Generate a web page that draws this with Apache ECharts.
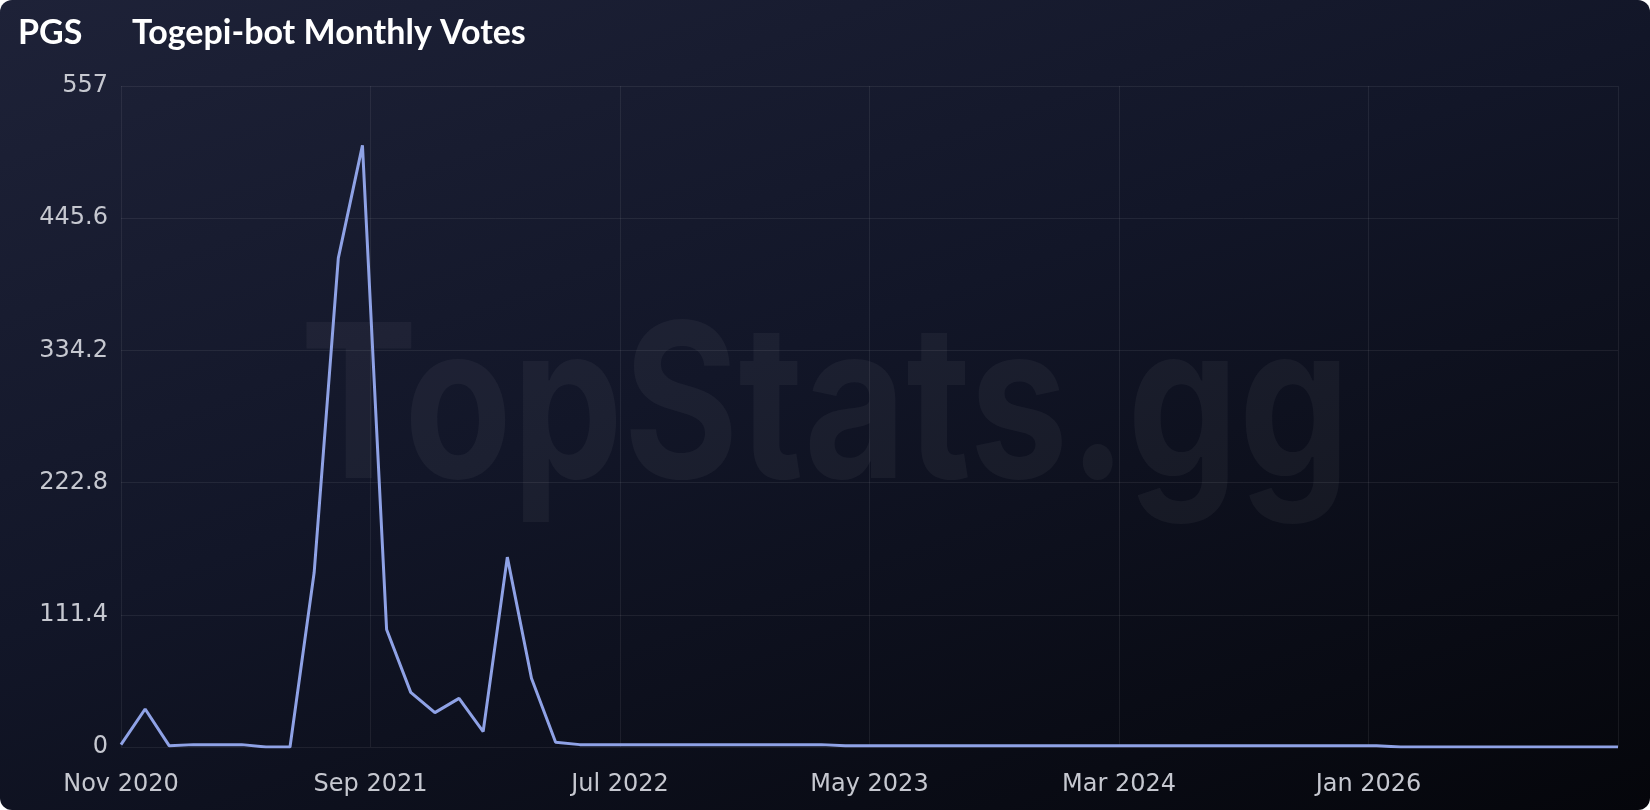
<!DOCTYPE html>
<html>
<head>
<meta charset="utf-8">
<script src="https://cdn.jsdelivr.net/npm/echarts@6/dist/echarts.min.js"></script>
<style>
  html, body { margin: 0; padding: 0; background: #ffffff; }
  #card {
    width: 1650px; height: 810px; border-radius: 12px; overflow: hidden;
    background: linear-gradient(160deg, #1e2238 0%, #121628 45%, #05060b 100%);
  }
  #chart { width: 1650px; height: 810px; }
</style>
</head>
<body>
<div id="card"><div id="chart"></div></div>
<script>
const months = [
  'Nov 2020','Dec 2020',
  'Jan 2021','Feb 2021','Mar 2021','Apr 2021','May 2021','Jun 2021','Jul 2021','Aug 2021','Sep 2021','Oct 2021','Nov 2021','Dec 2021',
  'Jan 2022','Feb 2022','Mar 2022','Apr 2022','May 2022','Jun 2022','Jul 2022','Aug 2022','Sep 2022','Oct 2022','Nov 2022','Dec 2022',
  'Jan 2023','Feb 2023','Mar 2023','Apr 2023','May 2023','Jun 2023','Jul 2023','Aug 2023','Sep 2023','Oct 2023','Nov 2023','Dec 2023',
  'Jan 2024','Feb 2024','Mar 2024','Apr 2024','May 2024','Jun 2024','Jul 2024','Aug 2024','Sep 2024','Oct 2024','Nov 2024','Dec 2024',
  'Jan 2025','Feb 2025','Mar 2025','Apr 2025','May 2025','Jun 2025','Jul 2025','Aug 2025','Sep 2025','Oct 2025','Nov 2025','Dec 2025',
  'Jan 2026'
];
const votes = [
  2, 32, 1, 2, 2, 2, 0, 0, 147, 412, 507, 99, 46, 29, 41, 13, 160, 58, 4,
  2, 2, 2, 2, 2, 2, 2, 2, 2, 2, 2,
  1, 1, 1, 1, 1, 1, 1, 1, 1, 1, 1, 1, 1, 1, 1, 1, 1, 1, 1, 1, 1, 1, 1,
  0, 0, 0, 0, 0, 0, 0, 0, 0, 0
];
const xTickLabels = ['Nov 2020', 'Sep 2021', 'Jul 2022', 'May 2023', 'Mar 2024', 'Jan 2026'];
const yMax = 557;
const yStep = 111.4;

const chart = echarts.init(document.getElementById('chart'), null, { renderer: 'canvas' });
const gridColor = 'rgba(255,255,255,0.07)';
const labelColor = '#c6c8d0';
const labelFont = 'DejaVu Sans, sans-serif';
const titleStyle = { color: '#ffffff', fontSize: 34, fontWeight: 'bold', fontFamily: 'Lato, sans-serif' };

chart.setOption({
  backgroundColor: 'transparent',
  animation: false,
  title: [
    { text: 'PGS', left: 13, top: 11, textStyle: titleStyle },
    { text: 'Togepi-bot Monthly Votes', left: 127, top: 11, textStyle: titleStyle }
  ],
  graphic: [{
    type: 'text', x: 825, y: 306, scaleX: 0.82, z: 0, silent: true,
    style: { text: 'TopStats.gg', fill: 'rgba(255,255,255,0.045)',
      font: 'bold 215px Inter, sans-serif', align: 'center', verticalAlign: 'top' }
  }],
  grid: { left: 121, right: 32, top: 86, bottom: 63 },
  xAxis: [
    { type: 'category', data: months, boundaryGap: false,
      axisLine: { show: false }, axisTick: { show: false }, axisLabel: { show: false }, splitLine: { show: false } },
    { type: 'value', position: 'bottom', min: 0, max: 6, interval: 1,
      axisLine: { show: false }, axisTick: { show: false },
      splitLine: { show: true, lineStyle: { color: gridColor, width: 1 } },
      axisLabel: { color: labelColor, fontSize: 24, fontFamily: labelFont, margin: 26,
        formatter: v => xTickLabels[Math.round(v)] || '' } }
  ],
  yAxis: {
    type: 'value', min: 0, max: yMax, interval: yStep,
    axisLine: { show: false }, axisTick: { show: false },
    splitLine: { lineStyle: { color: gridColor, width: 1 } },
    axisLabel: { color: labelColor, fontSize: 24, fontFamily: labelFont, margin: 13,
      padding: [6, 0, 0, 0],
      formatter: v => String(+v.toFixed(1)) }
  },
  series: [{
    type: 'line', xAxisIndex: 0, data: votes, showSymbol: false, symbol: 'none',
    lineStyle: { color: '#8fa2e6', width: 3 }, z: 3
  }]
});
</script>
</body>
</html>
